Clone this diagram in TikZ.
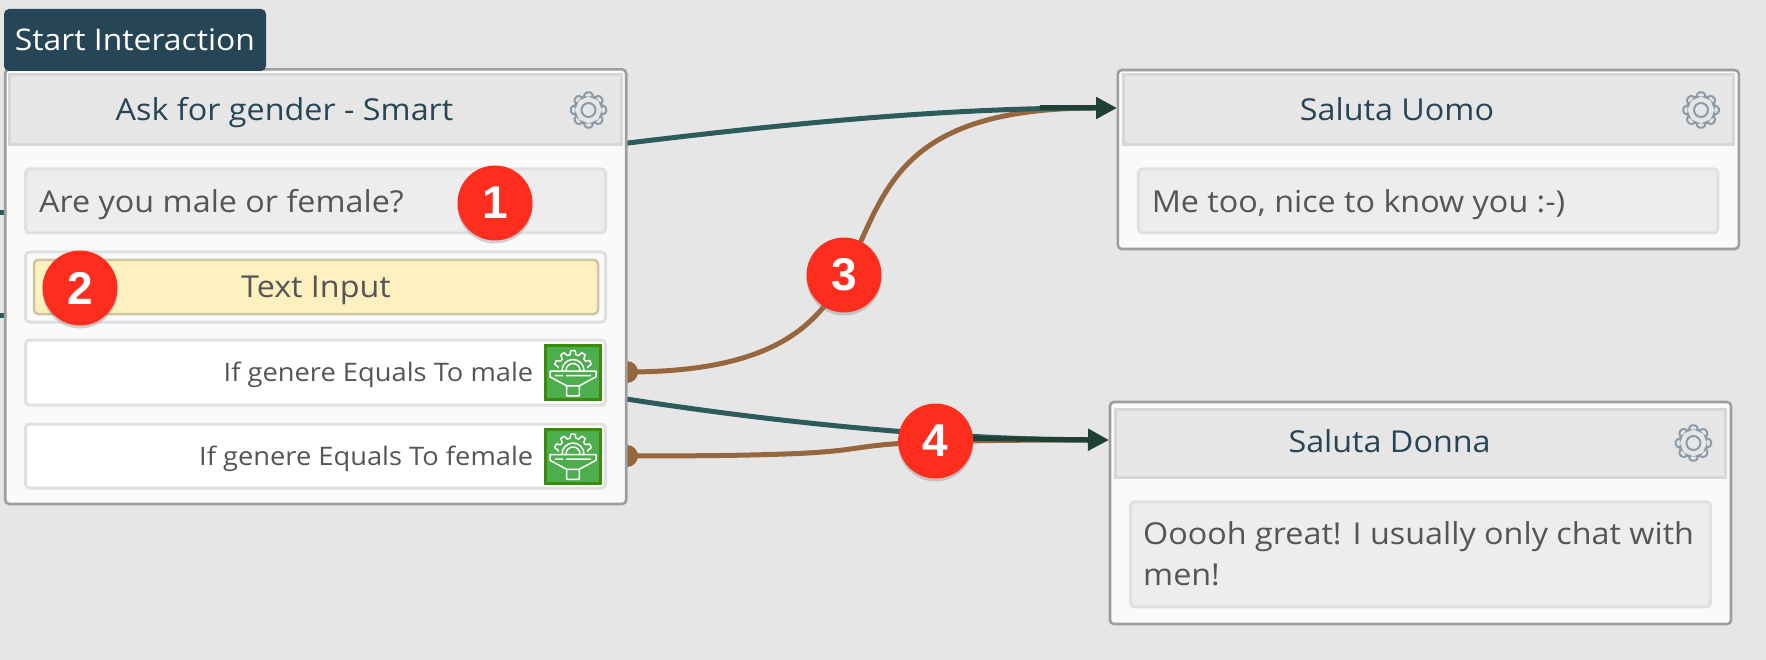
\documentclass[tikz,border=0pt]{standalone}
\usepackage{fontspec}
\setmainfont{Open Sans}[FakeStretch=1.07]
\newfontfamily\digitfont{Liberation Sans}
\usetikzlibrary{arrows.meta,shadows}

\definecolor{canvas}{HTML}{E6E6E6}
\definecolor{titleblue}{HTML}{264556}
\definecolor{bodygray}{HTML}{555555}
\definecolor{flowteal}{HTML}{2D5B5B}
\definecolor{flowdark}{HTML}{1F4037}
\definecolor{flowbrown}{HTML}{96663F}
\definecolor{badgered}{HTML}{FF2D1D}
\definecolor{inputfill}{HTML}{FFF0C0}
\definecolor{inputedge}{HTML}{C9C8A0}
\definecolor{filterfill}{HTML}{4CAE4C}
\definecolor{filteredge}{HTML}{3A8C0A}
\definecolor{gearline}{HTML}{8E9BA6}

\tikzset{
    panel/.style={draw=black!38, line width=2.6pt, fill=black!2, rounded corners=4pt, inner sep=0pt},
    headbar/.style={draw=black!16, line width=3pt, fill=canvas, inner sep=0pt},
    msgbar/.style={draw=black!12, line width=3pt, fill=black!7, rounded corners=4pt, inner sep=0pt},
    rowbar/.style={draw=black!12, line width=3pt, fill=white, rounded corners=4pt, inner sep=0pt},
    titletext/.style={text=titleblue, font=\fontsize{30.2}{36}\selectfont, inner sep=0pt, text height=21pt, text depth=0pt},
    bodytext/.style={text=bodygray, font=\fontsize{30.2}{36}\selectfont, inner sep=0pt, text height=21pt, text depth=0pt},
    smalltext/.style={text=bodygray, font=\fontsize{25.5}{30}\selectfont, inner sep=0pt, text height=18pt, text depth=0pt, anchor=east},
    badge/.style={circle, fill=badgered, minimum size=75pt, inner sep=0pt, text=white,
        font=\digitfont\bfseries\fontsize{46}{50}\selectfont,
        drop shadow={opacity=.35, shadow xshift=0pt, shadow yshift=-3pt}},
    port/.style={circle, fill=flowbrown, minimum size=22pt, inner sep=0pt},
    teal line/.style={draw=flowteal, line width=5pt},
    brown line/.style={draw=flowbrown, line width=5pt},
    flow arrow/.style={draw=flowdark, line width=5pt, -{Triangle[length=21pt,width=21pt]}},
    pics/gearicon/.style={code={
        \draw[draw=gearline, line width=2pt, rounded corners=1.6pt]
            (-22:13.5) \foreach \a in {0,45,...,315} { -- (\a-20:13.5) -- (\a-10:18) -- (\a+10:18) -- (\a+20:13.5) } -- cycle;
        \draw[draw=gearline, line width=2pt] (0,0) circle (7);
    }},
    pics/filtericon/.style={code={
        \draw[draw=filteredge, line width=3pt, fill=filterfill] (-27.5,-27) rectangle (27.5,27);
        \draw[white, line width=1.5pt, line join=round]
            (-23,-1.3) -- (23,-1.3) -- (23,4.3) -- (6.3,13.3) -- (6.3,23.3) -- (-6.3,23.3) -- (-6.3,13.3) -- (-23,4.3) -- cycle
            (-6.3,13.3) -- (6.3,13.3)
            (-18,3) -- (-10,3) (-7,3) -- (18,3);
        \begin{scope}[shift={(0,-3)}]
            \draw[white, line width=1.5pt, line join=round] (-175:15)
                \foreach \a in {-158,-124,-90,-56,-22} { -- (\a-12:15) -- (\a-6:19) -- (\a+6:19) -- (\a+12:15) } -- (-5:15);
            \draw[white, line width=1.5pt] (-11,1) arc[start angle=180, end angle=360, radius=11]
                (-7,1) arc[start angle=180, end angle=360, radius=7];
        \end{scope}
    }},
}

\begin{document}
\begin{tikzpicture}[x=1pt, y=-1pt]
    \useasboundingbox (0,0) rectangle (1766,660);
    \fill[canvas] (0,0) rectangle (1766,660);

    % Saluta Uomo
    \node[panel, minimum width=621pt, minimum height=179pt] (uomobox) at (1428.3,159.5) {};
    \node[headbar, minimum width=610pt, minimum height=70pt] (uomohead) at (1428.2,110) {};
    \node[titletext] (uomotitle) at (1397,110) {Saluta Uomo};
    \pic at (1701,110) {gearicon};
    \node[msgbar, minimum width=579.5pt, minimum height=64pt] (uomomsg) at (1428.2,201) {};
    \node[bodytext, anchor=west] (uomotext) at (1151.6,202) {Me too, nice to know you :-)};

    % Saluta Donna
    \node[panel, minimum width=621pt, minimum height=222pt] (donnabox) at (1420.5,513) {};
    \node[headbar, minimum width=610pt, minimum height=68pt] (donnahead) at (1420.6,443) {};
    \node[titletext] (donnatitle) at (1389.6,442) {Saluta Donna};
    \pic at (1693.4,443) {gearicon};
    \node[msgbar, minimum width=580pt, minimum height=105pt] (donnamsg) at (1420.5,554.4) {};
    \node[bodytext, anchor=west] (donnatexta) at (1143,534) {Ooooh great! I usually only chat with};
    \node[bodytext, anchor=west] (donnatextb) at (1143,575) {men!};

    % Connector ends
    \coordinate (inA) at (0,213);
    \coordinate (inB) at (0,315);
    \coordinate (askoutA) at (620,144);
    \coordinate (askoutB) at (620,398);
    \node[port] (portmale) at (627,372) {};
    \node[port] (portfemale) at (627,456) {};
    \coordinate (uomoend) at (1096,108);
    \coordinate (uomostub) at (1040,108);
    \coordinate (uomotip) at (1117,108);
    \coordinate (donnaend) at (1088,440);
    \coordinate (donnastub) at (970,438.5);
    \coordinate (donnatip) at (1109,440);

    % Connectors
    \draw[brown line] (portmale.center) .. controls (977,372) and (746,108) .. (uomoend);
    \draw[brown line] (portfemale.center) .. controls (977,456) and (738,440) .. (donnaend);
    \draw[teal line] (askoutA) .. controls (800,122) and (950,108) .. (uomoend);
    \draw[teal line] (askoutB) .. controls (760,420) and (930,439) .. (donnaend);
    \draw[flow arrow] (uomostub) -- (uomotip);
    \draw[flow arrow] (donnastub) -- (donnatip);
    \draw[teal line] (inA) -- (inA -| 10,0);
    \draw[teal line] (inB) -- (inB -| 10,0);

    % Ask for gender
    \node[panel, minimum width=621pt, minimum height=434.5pt] (askbox) at (315.7,286.7) {};
    \node[headbar, minimum width=611.5pt, minimum height=70pt] (askhead) at (315.7,110) {};
    \node[titletext] (asktitle) at (284.5,110) {Ask for gender - Smart};
    \pic at (588.5,110) {gearicon};
    \node[msgbar, minimum width=580pt, minimum height=64pt] (askmsg) at (315.5,201) {};
    \node[bodytext, anchor=west] (asktext) at (39,202) {Are you male or female?};
    \node[rowbar, fill=black!2, minimum width=580pt, minimum height=70pt] (inputrow) at (315.5,287) {};
    \node[draw=inputedge, line width=2.5pt, fill=inputfill, rounded corners=4pt,
        inner sep=0pt, minimum width=564pt, minimum height=54pt] (inputbar) at (316,287) {};
    \node[bodytext] (inputtext) at (316,287) {Text Input};
    \node[rowbar, minimum width=580pt, minimum height=65pt] (malerow) at (315.5,372.5) {};
    \node[smalltext] (maletext) at (533.5,372) {If genere Equals To male};
    \pic at (573,372.5) {filtericon};
    \node[rowbar, minimum width=580pt, minimum height=64pt] (femalerow) at (315.5,456) {};
    \node[smalltext] (femaletext) at (533.5,456) {If genere Equals To female};
    \pic at (573,456) {filtericon};

    % Start tab
    \node[fill=titleblue, rounded corners=5pt, inner sep=0pt, minimum width=262pt, minimum height=62pt,
        text=white, font=\fontsize{29.8}{36}\selectfont, text height=21pt, text depth=0pt] (starttab) at (135,40) {Start Interaction};

    % Numbered badges
    \node[badge] (badgeA) at (495,203) {1};
    \node[badge] (badgeB) at (80,288) {2};
    \node[badge] (badgeC) at (844,275) {3};
    \node[badge] (badgeD) at (935.6,441) {4};
\end{tikzpicture}
\end{document}
